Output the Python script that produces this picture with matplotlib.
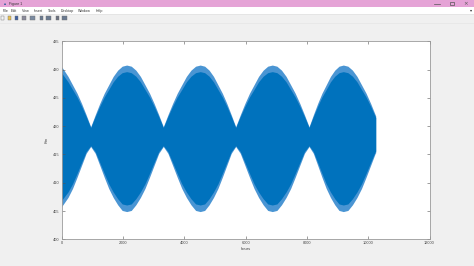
import matplotlib
matplotlib.use("Agg")
import matplotlib.pyplot as plt
from matplotlib.patches import Rectangle

# ---------------- data ----------------
hours = [0, 205, 354, 502, 650, 798, 946,
         1093, 1240, 1386, 1533, 1680, 1827, 1973, 2120,
         2269, 2419, 2568, 2718, 2867, 3016, 3166, 3315,
         3465, 3617, 3767, 3917, 4068, 4218, 4369, 4519,
         4664, 4809, 4953, 5098, 5243, 5388, 5532, 5677,
         5826, 5976, 6125, 6274, 6423, 6573, 6722, 6871,
         7021, 7171, 7321, 7471, 7620, 7770, 7920, 8070,
         8210, 8350, 8489, 8629, 8769, 8909, 9048, 9188,
         9337, 9486, 9634, 9783, 9932, 10081, 10230, 10245]

km_upper = [430.5, 428.8, 427.3, 425.8, 424.0, 422.0, 419.9,
            422.0, 424.0, 425.8, 427.3, 428.8, 429.9, 430.6, 430.8,
            430.6, 429.9, 428.8, 427.3, 425.8, 424.0, 422.0, 419.9,
            422.0, 424.0, 425.8, 427.3, 428.8, 429.9, 430.6, 430.8,
            430.6, 429.9, 428.8, 427.3, 425.8, 424.0, 422.0, 419.9,
            422.0, 424.0, 425.8, 427.3, 428.8, 429.9, 430.6, 430.8,
            430.6, 429.9, 428.8, 427.3, 425.8, 424.0, 422.0, 419.9,
            422.0, 424.0, 425.8, 427.3, 428.8, 429.9, 430.6, 430.8,
            430.6, 429.9, 428.8, 427.3, 425.8, 424.0, 422.0, 421.8]

km_lower = [405.8, 407.4, 409.0, 411.0, 413.1, 415.2, 416.4,
            415.2, 413.1, 411.0, 409.0, 407.4, 406.1, 405.1, 404.9,
            405.1, 406.1, 407.4, 409.0, 411.0, 413.1, 415.2, 416.4,
            415.2, 413.1, 411.0, 409.0, 407.4, 406.1, 405.1, 404.9,
            405.1, 406.1, 407.4, 409.0, 411.0, 413.1, 415.2, 416.4,
            415.2, 413.1, 411.0, 409.0, 407.4, 406.1, 405.1, 404.9,
            405.1, 406.1, 407.4, 409.0, 411.0, 413.1, 415.2, 416.4,
            415.2, 413.1, 411.0, 409.0, 407.4, 406.1, 405.1, 404.9,
            405.1, 406.1, 407.4, 409.0, 411.0, 413.1, 415.2, 415.3]

x_ticks = [0, 2000, 4000, 6000, 8000, 10000, 12000]
y_ticks = [400, 405, 410, 415, 420, 425, 430, 435]
menu_items = ["File", "Edit", "View", "Insert", "Tools", "Desktop", "Window", "Help"]
window_title = "Figure 1"

# ---------------- style ----------------
W, H = 474, 266
FONT = "Liberation Sans"
BLUE = "#0072BD"
BLUE_LIGHT = "#4A95D3"
FRINGE = 0.045

fig = plt.figure(figsize=(W / 100, H / 100), dpi=100)
fig.patch.set_facecolor("#F0F0F0")

# window chrome (pixel coordinates)
bg = fig.add_axes([0, 0, 1, 1], zorder=0)
bg.set_xlim(0, W)
bg.set_ylim(H, 0)
bg.axis("off")
bg.add_patch(Rectangle((0, 0), W, 7.2, color="#E5A3D6", lw=0))
bg.text(4, 3.6, "■", fontsize=2.5, color="#3060A0", va="center", ha="left", family=FONT)
bg.text(9.5, 3.6, window_title, fontsize=2.6, color="#333333", va="center", ha="left", family=FONT)
bg.plot([434, 440], [3.6, 3.6], color="#555555", lw=0.5)
bg.add_patch(Rectangle((450, 1.8), 3.6, 3.6, fill=False, ec="#555555", lw=0.5))
bg.text(466, 3.7, "×", fontsize=4, color="#555555", va="center", ha="center", family="DejaVu Sans")
bg.add_patch(Rectangle((0, 7.2), W, 6.8, color="#FFFFFF", lw=0))
menu_x = [2.3, 11, 22, 34, 48, 61, 78, 96]
for mx, name in zip(menu_x, menu_items):
    bg.text(mx, 10.6, name, fontsize=2.6, color="#333333", va="center", ha="left", family=FONT)
bg.text(471.5, 10.4, "▾", fontsize=3, color="#333333", va="center", ha="center", family="DejaVu Sans")
bg.plot([0, W], [14.2, 14.2], color="#DDDDDD", lw=0.4)
icon_x = [1.2, 8.3, 15.3, 22.3, 30.5, 40.2, 46.5, 56.2, 62.5]
icon_w = [2.6, 3.0, 3.0, 3.6, 4.4, 3.0, 4.4, 3.0, 4.4]
icon_c = ["#F4F4F4", "#E8C050", "#4060A0", "#8A8A9A", "#7A8AA0", "#6A7A90", "#6A7A90", "#6A7080", "#6A7A90"]
for ix, iw, ic in zip(icon_x, icon_w, icon_c):
    bg.add_patch(Rectangle((ix, 15.8), iw, 4.2, fc=ic, ec="#707070", lw=0.3))
bg.plot([0, W], [22.5, 22.5], color="#E2E2E2", lw=0.4)

# main axes
ax = fig.add_axes([61.7 / W, 1 - 239.3 / H, 367.8 / W, 198.0 / H], zorder=1)
ax.set_facecolor("white")
inner_up = [u - FRINGE * (u - l) for u, l in zip(km_upper, km_lower)]
inner_lo = [l + FRINGE * (u - l) for u, l in zip(km_upper, km_lower)]
ax.fill_between(hours, km_lower, km_upper, color=BLUE_LIGHT, lw=0)
ax.fill_between(hours, inner_lo, inner_up, color=BLUE, lw=0)

ax.set_xlim(0, 12000)
ax.set_ylim(400, 435)
ax.set_xticks(x_ticks)
ax.set_yticks(y_ticks)
ax.set_xticklabels([str(v) for v in x_ticks])
ax.set_yticklabels([str(v) for v in y_ticks])
ax.tick_params(direction="in", length=2, width=0.4, colors="#555555",
               labelsize=2.8, pad=1.5, top=True, right=True)
for lab in ax.get_xticklabels() + ax.get_yticklabels():
    lab.set_family(FONT)
    lab.set_color("#444444")
for s in ax.spines.values():
    s.set_color("#9A9A9A")
    s.set_linewidth(0.6)
ax.set_xlabel("hours", fontsize=3, family=FONT, color="#444444")
ax.set_ylabel("Km", fontsize=3, family=FONT, color="#444444")
ax.xaxis.set_label_coords(0.5, -0.04)
ax.yaxis.set_label_coords(-0.036, 0.5)

fig.savefig("out.png", dpi=100, facecolor=fig.get_facecolor())
